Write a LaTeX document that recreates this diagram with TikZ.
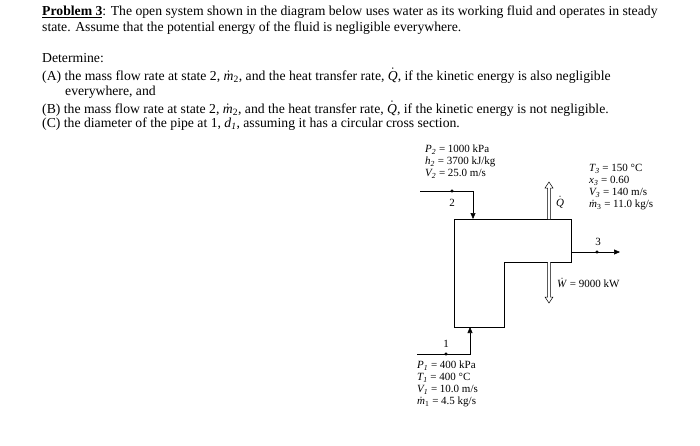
\documentclass[tikz,border=0pt]{standalone}
\usepackage{fontspec}
\setmainfont{Liberation Serif}
\usetikzlibrary{arrows.meta}
\newcommand{\dotit}[1]{\ensuremath{\dot{\hbox{\textit{#1}}}}}
\newcommand{\mdt}{\dotit{m}}
\newcommand{\Qdt}{\dotit{Q}}
\newcommand{\Wdt}{\dotit{W}}
\newcommand{\ssub}[1]{\textsubscript{#1}}
\begin{document}
\begin{tikzpicture}[x=1pt,y=-1pt,
  txt/.style={anchor=west,inner sep=0,font=\fontsize{13.7}{15}\selectfont},
  lab/.style={anchor=west,inner sep=0,font=\fontsize{11}{12}\selectfont,align=left},
  flow/.style={-{Triangle[length=6pt,width=5pt]},line width=0.6pt},
  pt/.style={circle,fill=black,draw=black,inner sep=0,minimum size=2.6pt}]
\useasboundingbox (0,0) rectangle (700,445);
\node[txt] (l1) at (42,12) {\textbf{\underline{Problem 3}}: The open system shown in the diagram below uses water as its working fluid and operates in steady};
\node[txt] (l2) at (42,28) {state. Assume that the potential energy of the fluid is negligible everywhere.};
\node[txt] (l3) at (42,58) {Determine:};
\node[txt] (l4) at (42,76) {(A) the mass flow rate at state 2, \mdt\ssub{2}, and the heat transfer rate, \Qdt, if the kinetic energy is also negligible};
\node[txt] (l5) at (65,92) {everywhere, and};
\node[txt] (l6) at (42,109) {(B) the mass flow rate at state 2, \mdt\ssub{2}, and the heat transfer rate, \Qdt, if the kinetic energy is not negligible.};
\node[txt] (l7) at (42,124) {(C) the diameter of the pipe at 1, \textit{d\ssub{1}}, assuming it has a circular cross section.};
% body
\draw[line width=0.6pt] (454,219) -- (571,219) -- (571,262) -- (504,262) -- (504,327) -- (454,327) -- cycle;
% inlet 2
\coordinate (i2a) at (420,191); \coordinate (i2b) at (473,191); \coordinate (i2c) at (473,219);
\draw[flow] (i2a) -- (i2b) -- (i2c);
\node[pt] (p2) at (452,191) {};
\node[lab,anchor=center] (n2) at (452,203) {2};
% inlet 1
\coordinate (i1a) at (417,354); \coordinate (i1b) at (470,354); \coordinate (i1c) at (470,327);
\draw[flow] (i1a) -- (i1b) -- (i1c);
\node[pt] (p1) at (446,354) {};
\node[lab,anchor=center] (n1) at (446,344) {1};
% outlet 3
\coordinate (o3a) at (571,252); \coordinate (o3b) at (620,252);
\draw[flow] (o3a) -- (o3b);
\node[pt] (p3) at (597,252) {};
\node[lab,anchor=center] (n3) at (598,242) {3};
% Q and W (hollow double arrows)
\draw[line width=0.5pt,fill=white] (547.5,219) -- (547.5,188) -- (545,188) -- (549,182) -- (553,188) -- (550.5,188) -- (550.5,219);
\draw[line width=0.5pt,fill=white] (547.5,262) -- (547.5,297) -- (545,297) -- (549,303) -- (553,297) -- (550.5,297) -- (550.5,262);
\node[lab] (q) at (556,202) {\Qdt};
\node[lab] (w) at (557,283) {\Wdt\ = 9000 kW};
% state labels
\node[lab,anchor=north west] (s2) at (425,145) {\textit{P\ssub{2}} = 1000 kPa\\\textit{h\ssub{2}} = 3700 kJ/kg\\\textit{V\ssub{2}} = 25.0 m/s};
\node[lab,anchor=north west] (s3) at (589,164) {\textit{T\ssub{3}} = 150 °C\\\textit{x\ssub{3}} = 0.60\\\textit{V\ssub{3}} = 140 m/s\\\mdt\ssub{3} = 11.0 kg/s};
\node[lab,anchor=north west] (s1) at (417,361) {\textit{P\ssub{1}} = 400 kPa\\\textit{T\ssub{1}} = 400 °C\\\textit{V\ssub{1}} = 10.0 m/s\\\mdt\ssub{1} = 4.5 kg/s};
\end{tikzpicture}
\end{document}
